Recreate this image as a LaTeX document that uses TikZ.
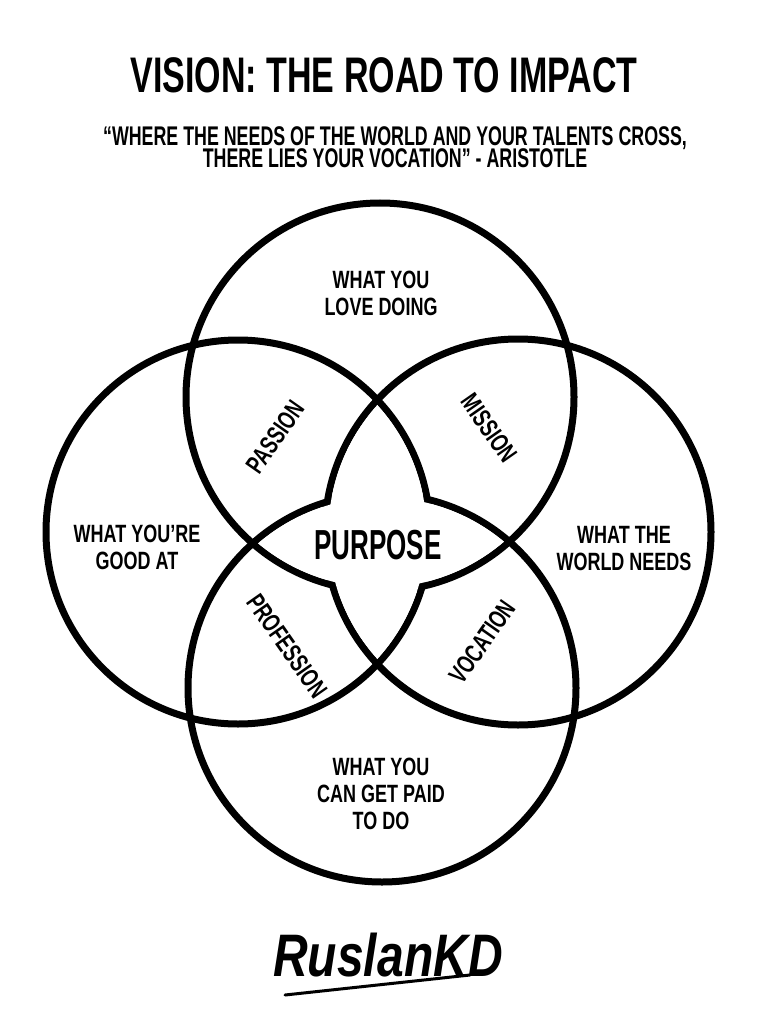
\documentclass[tikz,border=0pt]{standalone}
\usepackage{fontspec}
\setmainfont{Liberation Sans}
\begin{document}
\begin{tikzpicture}[x=1pt,y=-1pt,
  circ/.style={draw=black,line width=7pt},
  lab/.style={font=\bfseries\fontsize{25}{27}\selectfont,align=center,xscale=0.72,transform shape},
  rlab/.style={font=\bfseries\fontsize{26}{28}\selectfont,inner sep=0pt},
  ttl/.style={font=\bfseries,align=center}]
\useasboundingbox (0,0) rectangle (768,1024);
\fill[white] (0,0) rectangle (768,1024);
\draw[circ] (380,397) circle (194);
\draw[circ] (238,532) circle (192);
\draw[circ] (518,532) circle (193);
\draw[circ] (382,688) circle (194);
\begin{scope}
\clip (380,397) circle (190.5);
\fill[white] (382,688) circle (190.5);
\end{scope}
\begin{scope}
\clip (238,532) circle (188.5);
\fill[white] (518,532) circle (189.5);
\end{scope}
\node[ttl,xscale=0.68] (title) at (384,75) {\fontsize{50}{52}\selectfont VISION: THE ROAD TO IMPACT};
\node[ttl,xscale=0.66] (quote) at (395,147) {\fontsize{27}{28}\selectfont “WHERE THE NEEDS OF THE WORLD AND YOUR TALENTS CROSS,\\[-2pt]\fontsize{27}{28}\selectfont THERE LIES YOUR VOCATION” - ARISTOTLE};
\node[lab] (love) at (381,293) {WHAT YOU\\LOVE DOING};
\node[lab] (good) at (137,547) {WHAT YOU’RE\\GOOD AT};
\node[lab] (world) at (624,549) {WHAT THE\\WORLD NEEDS};
\node[lab] (paid) at (381,794) {WHAT YOU\\CAN GET PAID\\TO DO};
\node[font=\bfseries\fontsize{42}{44}\selectfont,xscale=0.62] (purpose) at (378,545) {PURPOSE};
\node[rlab,rotate=55] (passion) at (275,437) {\scalebox{0.7}[1]{PASSION}};
\node[rlab,rotate=-55] (mission) at (489,428) {\scalebox{0.7}[1]{MISSION}};
\node[rlab,rotate=-55] (profession) at (287,646) {\scalebox{0.7}[1]{PROFESSION}};
\node[rlab,rotate=55] (vocation) at (482,642) {\scalebox{0.7}[1]{VOCATION}};
\node[font=\bfseries\itshape\fontsize{60}{60}\selectfont,xscale=0.8] (sig) at (388,955) {RuslanKD};
\draw[line width=3pt,line cap=round] (285,995) -- (470,975);
\end{tikzpicture}
\end{document}
